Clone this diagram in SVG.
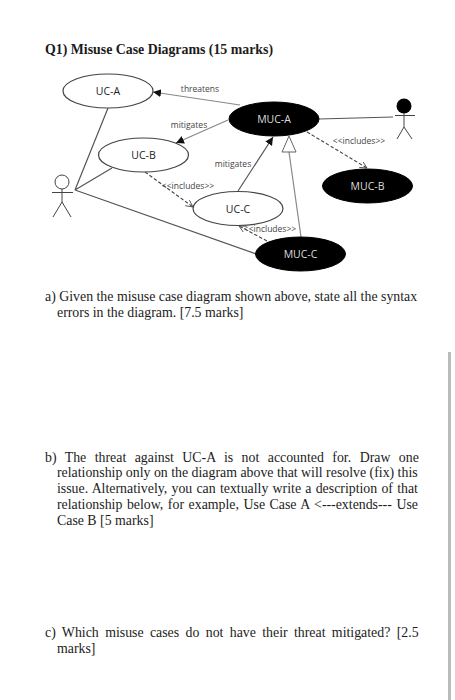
<svg xmlns="http://www.w3.org/2000/svg" width="455" height="700" viewBox="0 0 455 700">
<defs>
<style>
.t{font-family:"Liberation Serif","Times New Roman",serif;font-size:13.850px;fill:#1c1c1c}
.l{font-family:"Open Sans","Liberation Sans",sans-serif;font-size:8.500px;fill:#444;text-anchor:middle}
.n{font-family:"Open Sans","Liberation Sans",sans-serif;font-size:10.500px;text-anchor:middle}
.w{fill:#fff;stroke:#444;stroke-width:1.200}
.b{fill:#000;stroke:#000;stroke-width:1}
.c{stroke:#555;stroke-width:1.200;fill:none}
.g{stroke:#888;stroke-width:1.200;fill:none}
.d{stroke:#444;stroke-width:1.100;fill:none;stroke-dasharray:3.500 2}
.a{stroke:#444;stroke-width:1;fill:none}
</style>
<marker id="f" markerWidth="9" markerHeight="9" refX="8" refY="4" orient="auto" markerUnits="userSpaceOnUse"><path d="M0 0L8 4L0 8Z" fill="#111"/></marker>
<marker id="o" markerWidth="8" markerHeight="8" refX="7" refY="3.500" orient="auto" markerUnits="userSpaceOnUse"><path d="M0 0L7 3.500L0 7" fill="none" stroke="#444" stroke-width="0.800"/></marker>
</defs>
<rect width="455" height="700" fill="#fff"/>
<rect x="448" y="352" width="3" height="348" fill="#bbb"/>
<text id="title" x="45" y="54" class="t" font-weight="bold">Q1) Misuse Case Diagrams (15 marks)</text>
<g id="connectors">
<path class="c" d="M75 190L108 108M75 190L112 168M75 190L256 254M319 119L393 117"/>
<path class="g" d="M240 105L153 92" marker-end="url(#f)"/>
<path class="g" d="M228 120L176 143" marker-end="url(#f)"/>
<path class="c" d="M238 191L273 137" marker-end="url(#f)"/>
<path class="g" d="M289 152L301 237"/>
<path d="M289 136L282 152L296 152Z" fill="#fff" stroke="#666"/>
<path class="d" d="M307 132L367 168" marker-end="url(#o)"/>
<path class="d" d="M145 172L193 207" marker-end="url(#o)"/>
<path class="d" d="M267 241L239 226" marker-end="url(#o)"/>
</g>
<text class="l" x="200" y="92">threatens</text>
<text class="l" x="189" y="128">mitigates</text>
<text class="l" x="233" y="167">mitigates</text>
<text class="l" x="359" y="144">&lt;&lt;includes&gt;&gt;</text>
<text class="l" x="188" y="189">&lt;&lt;includes&gt;&gt;</text>
<text class="l" x="270" y="232">&lt;&lt;includes&gt;&gt;</text>
<g id="uc-a"><ellipse class="w" cx="108" cy="91" rx="45" ry="17"/><text class="n" x="108" y="95" fill="#222">UC-A</text></g>
<g id="uc-b"><ellipse class="w" cx="143.500" cy="155" rx="45" ry="17"/><text class="n" x="143.500" y="159" fill="#222">UC-B</text></g>
<g id="uc-c"><ellipse class="w" cx="238" cy="208.500" rx="45" ry="17"/><text class="n" x="238" y="212.500" fill="#222">UC-C</text></g>
<g id="muc-a"><ellipse class="b" cx="274" cy="119" rx="45" ry="17"/><text class="n" x="274" y="123" fill="#ddd">MUC-A</text></g>
<g id="muc-b"><ellipse class="b" cx="367.500" cy="186" rx="45" ry="17"/><text class="n" x="367.500" y="190" fill="#ddd">MUC-B</text></g>
<g id="muc-c"><ellipse class="b" cx="300.500" cy="254" rx="45" ry="17"/><text class="n" x="300.500" y="258" fill="#ddd">MUC-C</text></g>
<g id="actor-left"><circle cx="62" cy="182" r="7" fill="#fff" stroke="#444"/><path class="a" d="M62 189V202M52 192.500H73M62 202L53 217M62 202L71 217"/></g>
<g id="actor-right"><circle cx="404" cy="106" r="7.500" fill="#000"/><path class="a" d="M404 113V127M395 115.500H415M404 127L397 139M404 127L412 139"/></g>
<text class="t" x="45" y="301">a) Given the misuse case diagram shown above, state all the syntax</text>
<text class="t" x="57" y="317">errors in the diagram. [7.5 marks]</text>
<text class="t" x="45" y="462" word-spacing="5">b) The threat against UC-A is not accounted for. Draw one</text>
<text class="t" x="57" y="477">relationship only on the diagram above that will resolve (fix) this</text>
<text class="t" x="57" y="493" word-spacing="0.780">issue. Alternatively, you can textually write a description of that</text>
<text class="t" x="57" y="509" word-spacing="1.100">relationship below, for example, Use Case A &lt;---extends--- Use</text>
<text class="t" x="57" y="525">Case B [5 marks]</text>
<text class="t" x="45" y="637" word-spacing="2.900">c) Which misuse cases do not have their threat mitigated? [2.5</text>
<text class="t" x="57" y="653">marks]</text>
</svg>
